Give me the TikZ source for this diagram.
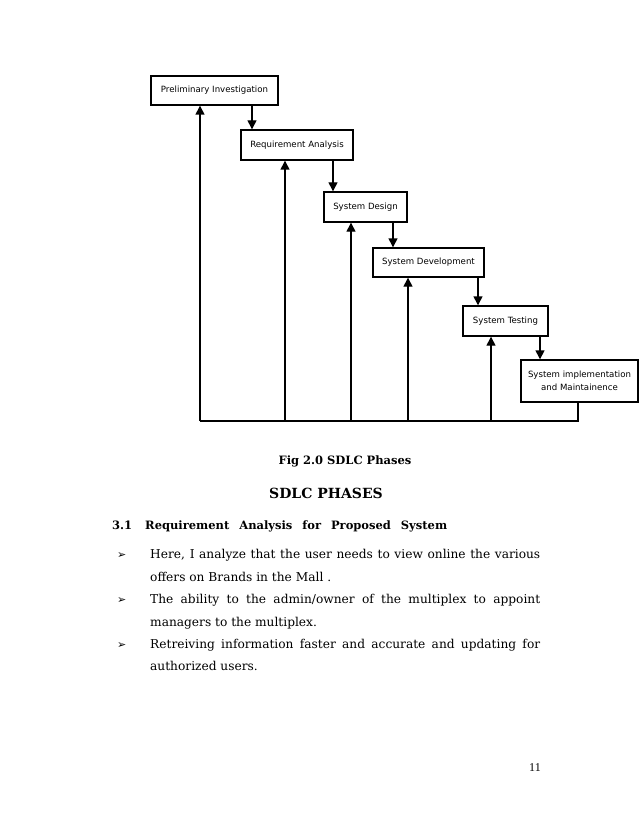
\documentclass[tikz,border=0pt]{standalone}
\usepackage{fontspec}
\setmainfont{DejaVu Serif}
\newfontfamily\boxfont{DejaVu Sans}
\newfontfamily\pgfont{Liberation Serif}
\usetikzlibrary{arrows.meta}
\begin{document}
\begin{tikzpicture}[x=1pt,y=-1pt,
  phase/.style={draw,line width=1.4pt,inner sep=0pt,font=\boxfont\fontsize{8.6}{12.5}\selectfont,align=center},
  flow/.style={line width=1.4pt,-{Triangle[length=9pt,width=9pt]}},
  rail/.style={line width=1.4pt},
  txt/.style={inner sep=0pt,anchor=base west,font=\fontsize{12.2}{14}\selectfont},
  bul/.style={inner sep=0pt,anchor=base west,font=\boxfont\fontsize{11}{13}\selectfont}]
\useasboundingbox (0,0) rectangle (638,826);
\node[phase,minimum width=127pt,minimum height=29pt] (b1) at (214.5,90.5) {Preliminary Investigation};
\node[phase,minimum width=112pt,minimum height=30pt] (b2) at (297,145) {Requirement Analysis};
\node[phase,minimum width=83pt,minimum height=30pt] (b3) at (365.5,207) {System Design};
\node[phase,minimum width=111pt,minimum height=29pt] (b4) at (428.5,262.5) {System Development};
\node[phase,minimum width=85pt,minimum height=30pt] (b5) at (505.5,321) {System Testing};
\node[phase,minimum width=117pt,minimum height=42pt] (b6) at (579.5,381) {System implementation\\and Maintainence};
% down arrows
\coordinate (d1) at (252,0);
\coordinate (d2) at (333,0);
\coordinate (d3) at (393,0);
\coordinate (d4) at (478,0);
\coordinate (d5) at (540,0);
\draw[flow] (b1.south -| d1) -- (b2.north -| d1);
\draw[flow] (b2.south -| d2) -- (b3.north -| d2);
\draw[flow] (b3.south -| d3) -- (b4.north -| d3);
\draw[flow] (b4.south -| d4) -- (b5.north -| d4);
\draw[flow] (b5.south -| d5) -- (b6.north -| d5);
% feedback rail
\coordinate (u1) at (200,421);
\coordinate (u2) at (285,421);
\coordinate (u3) at (351,421);
\coordinate (u4) at (408,421);
\coordinate (u5) at (491,421);
\coordinate (ur) at (578,421);
\draw[rail] (b6.south -| ur) -- (ur) -- (u1);
\draw[flow] (u1) -- (b1.south -| u1);
\draw[flow] (u2) -- (b2.south -| u2);
\draw[flow] (u3) -- (b3.south -| u3);
\draw[flow] (u4) -- (b4.south -| u4);
\draw[flow] (u5) -- (b5.south -| u5);
% texts
\node[inner sep=0pt,anchor=base,font=\bfseries\fontsize{11.5}{13}\selectfont] (cap) at (345,464) {Fig 2.0 SDLC Phases};
\node[inner sep=0pt,anchor=base,font=\bfseries\fontsize{14}{17}\selectfont] (ttl) at (326,498) {SDLC PHASES};
\node[inner sep=0pt,anchor=base west,font=\bfseries\fontsize{11.5}{13}\selectfont] (num) at (112,529) {3.1};
\node[inner sep=0pt,anchor=base west,font=\bfseries\fontsize{11.5}{13}\selectfont] (sec) at (145,529) {\makebox[302pt][s]{Requirement Analysis for Proposed System}};
\node[bul] (k1) at (117,558) {➢};
\node[txt] (l1) at (150,558) {\makebox[390pt][s]{Here, I analyze that the user needs to view online the various}};
\node[txt] (l2) at (150,581) {offers on Brands in the Mall .};
\node[bul] (k2) at (117,603) {➢};
\node[txt] (l3) at (150,603) {\makebox[390pt][s]{The ability to the admin/owner of the multiplex to appoint}};
\node[txt] (l4) at (150,626) {managers to the multiplex.};
\node[bul] (k3) at (117,648) {➢};
\node[txt] (l5) at (150,648) {\makebox[390pt][s]{Retreiving information faster and accurate and updating for}};
\node[txt] (l6) at (150,670) {authorized users.};
\node[inner sep=0pt,anchor=base,font=\pgfont\fontsize{12}{14}\selectfont] (pg) at (535,771) {11};
\end{tikzpicture}
\end{document}
